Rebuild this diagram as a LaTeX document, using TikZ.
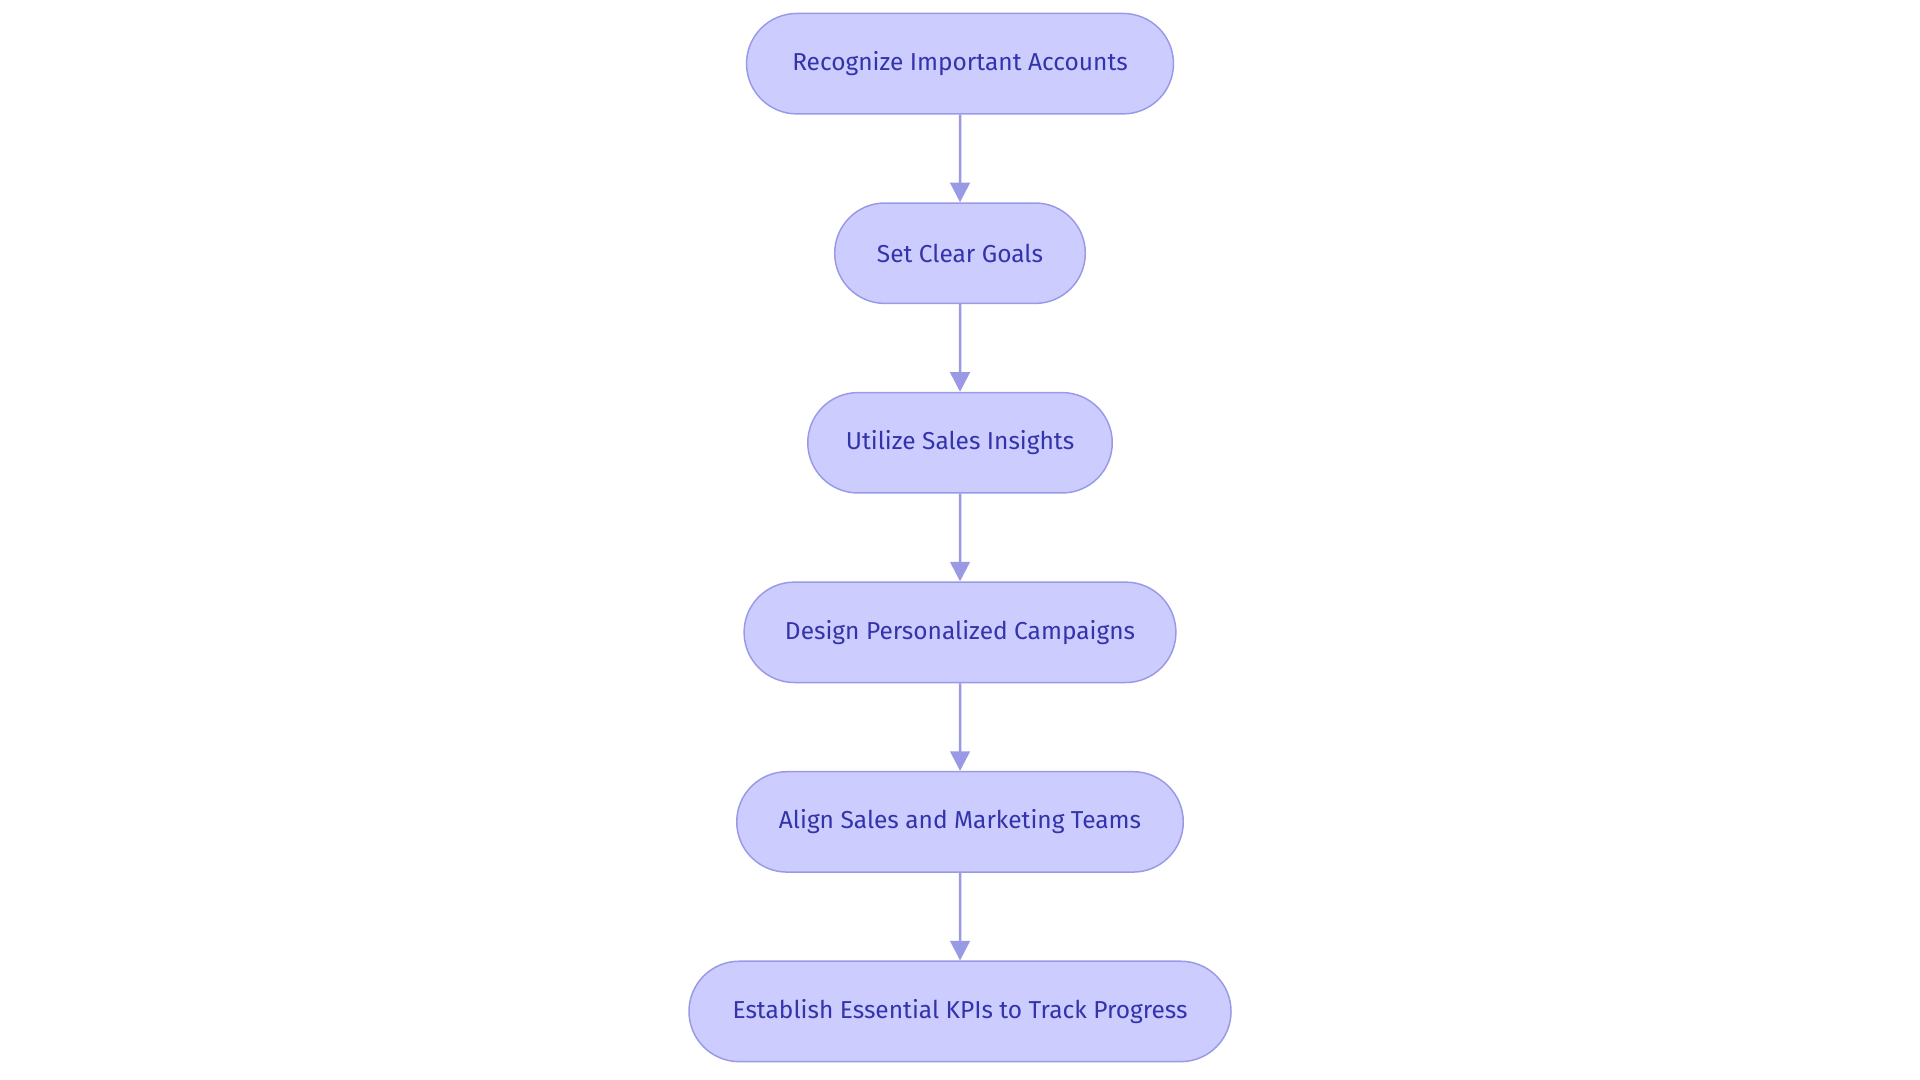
\documentclass[tikz,border=0pt]{standalone}
\usepackage{fontspec}
\setmainfont{Fira Sans}
\usetikzlibrary{positioning,shapes.misc,arrows.meta}
\definecolor{stepfill}{HTML}{CCCCFF}
\definecolor{stepline}{HTML}{9999E6}
\definecolor{steptext}{HTML}{3333AA}
\tikzset{
  stage/.style={rounded rectangle, draw=stepline, fill=stepfill, text=steptext,
    font=\fontsize{10pt}{12pt}\selectfont, minimum height=41pt, line width=0.6pt},
  flow/.style={-{Triangle[length=8pt,width=8pt]}, draw=stepline, line width=1pt}
}
\begin{document}
\begin{tikzpicture}[node distance=35.8pt]
  \useasboundingbox (0,0) rectangle (784pt,-441pt);
  \node[stage, minimum width=181pt] (recognize) at (392pt,-26pt) {Recognize Important Accounts};
  \node[stage, minimum width=109pt, below=of recognize] (goals) {Set Clear Goals};
  \node[stage, minimum width=131pt, below=of goals] (insights) {Utilize Sales Insights};
  \node[stage, minimum width=183pt, below=of insights] (campaigns) {Design Personalized Campaigns};
  \node[stage, minimum width=189pt, below=of campaigns] (align) {Align Sales and Marketing Teams};
  \node[stage, minimum width=228pt, below=of align] (kpis) {Establish Essential KPIs to Track Progress};
  % connectors
  \draw[flow] (recognize) -- (goals);
  \draw[flow] (goals) -- (insights);
  \draw[flow] (insights) -- (campaigns);
  \draw[flow] (campaigns) -- (align);
  \draw[flow] (align) -- (kpis);
\end{tikzpicture}
\end{document}
